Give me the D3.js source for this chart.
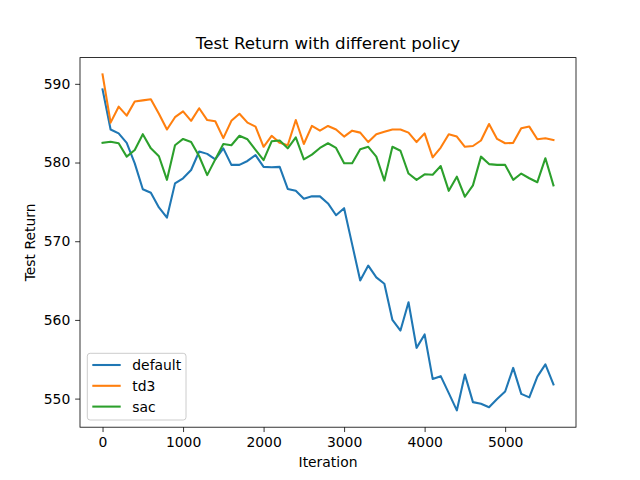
<!DOCTYPE html>
<html><head><meta charset="utf-8">
<script src="https://cdn.jsdelivr.net/npm/d3@7"></script>
<style>body{margin:0;background:#fff}svg{display:block}text{font-family:"DejaVu Sans",sans-serif;fill:#000}</style>
</head><body>
<svg id="c" width="640" height="480"></svg>
<script>
const iterations = d3.range(0, 5700, 100);
const seriesNames = ["default", "td3", "sac"];
const colors = ["#1f77b4", "#ff7f0e", "#2ca02c"];
const defaultVals = [589.3,584.2,583.7,582.5,579.9,576.6,576.15,574.3,573.0,577.35,578.0,579.05,581.4,581.1,580.4,581.8,579.7,579.7,580.2,580.95,579.45,579.4,579.45,576.65,576.4,575.4,575.7,575.7,574.8,573.3,574.2,569.6,565.0,566.9,565.4,564.6,560.0,558.65,562.25,556.45,558.15,552.5,552.85,550.7,548.5,553.05,549.55,549.35,548.9,549.95,550.9,553.9,550.6,550.15,552.8,554.35,551.8];
const td3Vals = [591.2,585.07,587.1,585.96,587.75,587.9,588.05,586.2,584.2,585.76,586.5,585.3,586.9,585.4,585.25,583.1,585.3,586.2,585.07,584.57,582.0,583.4,582.5,582.2,585.4,582.35,584.65,584.05,584.65,584.2,583.3,584.05,583.8,582.6,583.6,583.9,584.2,584.2,583.8,582.6,583.7,580.66,581.9,583.6,583.3,582.0,582.1,582.8,584.9,583.0,582.45,582.5,584.35,584.57,582.95,583.08,582.87];
const sacVals = [582.5,582.65,582.45,580.75,581.6,583.6,581.8,580.8,577.8,582.2,583.0,582.6,580.8,578.4,580.4,582.35,582.2,583.4,582.95,581.6,580.3,582.7,582.8,581.8,583.2,580.4,581.0,581.85,582.45,581.85,579.9,579.9,581.7,582.0,580.75,577.7,582.0,581.5,578.6,577.8,578.5,578.45,579.55,576.4,578.2,575.65,577.1,580.75,579.8,579.7,579.7,577.8,578.6,578.0,577.5,580.55,577.1];
const xTicks = [0,1000,2000,3000,4000,5000];
const yTicks = [550,560,570,580,590];
const titleText = "Test Return with different policy";
const xLabel = "Iteration";
const yLabel = "Test Return";

const allSeries = [defaultVals, td3Vals, sacVals];
const svg = d3.select("#c");
const L = 80, R = 576, T = 57.6, B = 427.2;
const xMin = d3.min(iterations), xMax = d3.max(iterations);
const allY = allSeries.flat();
const yMin = d3.min(allY), yMax = d3.max(allY);
const xm = (xMax - xMin) * 0.05, ym = (yMax - yMin) * 0.05;
const x = d3.scaleLinear().domain([xMin - xm, xMax + xm]).range([L, R]);
const y = d3.scaleLinear().domain([yMin - ym, yMax + ym]).range([B, T]);

const xAxis = svg.append("g").attr("transform", `translate(0,${B})`)
  .call(d3.axisBottom(x).tickValues(xTicks).tickSize(4.86).tickPadding(4.86).tickFormat(d3.format("d")));
const yAxis = svg.append("g").attr("transform", `translate(${L},0)`)
  .call(d3.axisLeft(y).tickValues(yTicks).tickSize(4.86).tickPadding(4.86).tickFormat(d3.format("d")));
[xAxis, yAxis].forEach(g => {
  g.select(".domain").remove();
  g.selectAll(".tick line").attr("stroke", "#000").attr("stroke-width", 0.8);
  g.selectAll(".tick text").attr("font-size", "13.9px").attr("font-family", "DejaVu Sans").attr("fill", "#000");
});

const line = d3.line().x((d, i) => x(iterations[i])).y(d => y(d));
allSeries.forEach((s, k) => {
  svg.append("path").datum(s).attr("d", line).attr("fill", "none")
    .attr("stroke", colors[k]).attr("stroke-width", 2.08)
    .attr("stroke-linejoin", "round").attr("stroke-linecap", "square");
});

svg.append("rect").attr("x", L).attr("y", T).attr("width", R - L).attr("height", B - T)
  .attr("fill", "none").attr("stroke", "#000").attr("stroke-width", 0.8);

svg.append("text").attr("x", (L + R) / 2).attr("y", 49).attr("text-anchor", "middle")
  .attr("font-size", "16.67px").text(titleText);
svg.append("text").attr("x", (L + R) / 2).attr("y", 467).attr("text-anchor", "middle")
  .attr("font-size", "13.9px").text(xLabel);
svg.append("text").attr("transform", `translate(35,${(T + B) / 2}) rotate(-90)`).attr("text-anchor", "middle")
  .attr("font-size", "13.9px").text(yLabel);

const lg = svg.append("g");
lg.append("rect").attr("x", 87.3).attr("y", 353.3).attr("width", 98.7).attr("height", 66.7)
  .attr("rx", 2.8).attr("fill", "#fff").attr("fill-opacity", 0.8).attr("stroke", "#ccc").attr("stroke-width", 1);
seriesNames.forEach((n, k) => {
  const cy = 365 + k * 20.8;
  lg.append("line").attr("x1", 92.3).attr("x2", 120.7).attr("y1", cy).attr("y2", cy)
    .attr("stroke", colors[k]).attr("stroke-width", 2.08);
  lg.append("text").attr("x", 132.3).attr("y", cy + 5).attr("font-size", "13.9px").text(n);
});
</script>
</body></html>
